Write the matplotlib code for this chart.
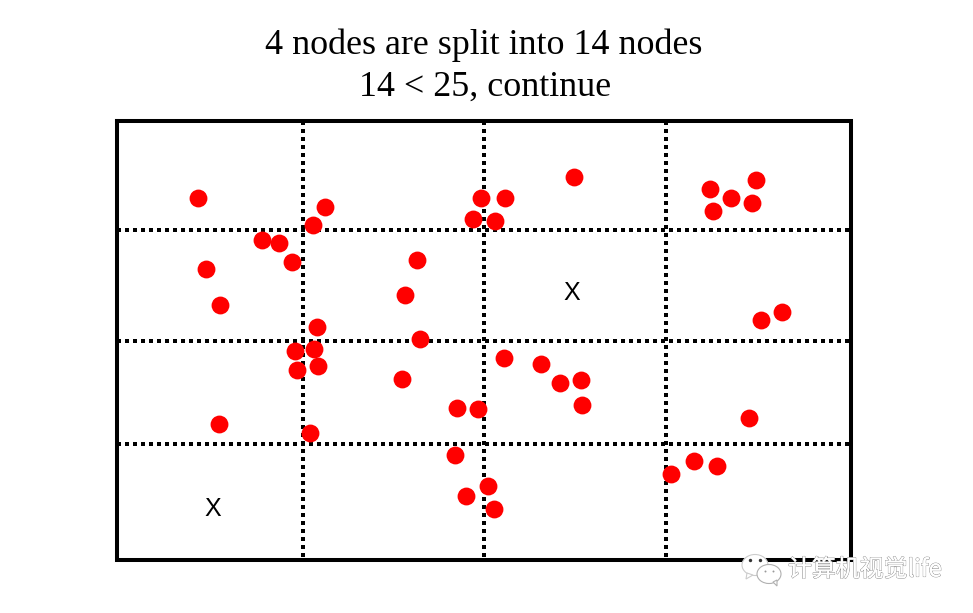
import matplotlib
matplotlib.use("Agg")
import matplotlib.pyplot as plt
import matplotlib.patheffects as pe
from matplotlib.patches import Ellipse, Polygon

# points (pixel positions of the reference)
pts_x = [198, 325, 313, 262, 279, 292, 206, 220, 317, 295, 314, 297, 318, 219, 310,
         417, 405, 420, 402, 481, 505, 473, 495, 574, 457, 478, 504, 541, 560, 581,
         582, 455, 488, 466, 494, 710, 731, 756, 752, 713, 761, 782, 749, 671, 694, 717]
pts_y = [198, 207, 225, 240, 243, 262, 269, 305, 327, 351, 349, 370, 366, 424, 433,
         260, 295, 339, 379, 198, 198, 219, 221, 177, 408, 409, 358, 364, 383, 380,
         405, 455, 486, 496, 509, 189, 198, 180, 203, 211, 320, 312, 418, 474, 461, 466]

grid_x = [303, 484, 665.5]
grid_y = [230, 341, 443.5]
x_marks = [(572, 293), (213, 509)]
title_lines = ["4 nodes are split into 14 nodes", "14 < 25, continue"]
watermark = "计算机视觉life"

W, H = 973, 613
fig = plt.figure(figsize=(W / 100, H / 100), dpi=100, facecolor="white")
ax = fig.add_axes([0, 0, 1, 1])
ax.set_xlim(0, W)
ax.set_ylim(H, 0)
ax.axis("off")

# frame
ax.plot([117, 851, 851, 117, 117], [121, 121, 560, 560, 121], color="black", lw=2.9,
        solid_joinstyle="miter", zorder=2)

# dotted split lines, 4 px squares every 8 px
for gx in grid_x:
    ax.plot([gx, gx], [121, 560], color="black", lw=2.88, ls=(0, (1, 1)), zorder=1)
for gy in grid_y:
    ax.plot([117, 851], [gy, gy], color="black", lw=2.88, ls=(0, (1, 1)), zorder=1)

ax.scatter(pts_x, pts_y, s=165, color="#ff0000", linewidths=0, zorder=3)

for mx, my in x_marks:
    ax.text(mx, my, "X", fontsize=18, family="Liberation Sans", ha="center", va="center", zorder=4)

ax.text(484, 45, title_lines[0], fontsize=25.9, family="Liberation Serif", ha="center", va="center")
ax.text(485, 87, title_lines[1], fontsize=25.9, family="Liberation Serif", ha="center", va="center")

# watermark
ax.add_patch(Ellipse((755, 565), 26, 21, fc="white", ec="#cccccc", lw=0.8, zorder=5))
ax.add_patch(Polygon([[747, 573], [746, 579], [753, 575]], fc="white", ec="#cccccc", lw=0.8, zorder=5))
ax.add_patch(Ellipse((769, 574), 24, 19, fc="white", ec="#b0b0b0", lw=0.8, zorder=6))
ax.add_patch(Polygon([[773, 582], [777, 586], [777, 580]], fc="white", ec="#b0b0b0", lw=0.8, zorder=6))
ax.scatter([750, 760], [560, 560], s=6, color="#333333", linewidths=0, zorder=7)
ax.scatter([765, 773], [571, 571], s=2, color="#999999", linewidths=0, zorder=7)
ax.text(788, 570, watermark, fontsize=17.2, color="white", ha="left", va="center", zorder=7,
        family=["Noto Sans CJK SC", "DejaVu Sans"],
        path_effects=[pe.withStroke(linewidth=0.8, foreground="#8c8c8c"), pe.Normal()])

fig.savefig("out.png", dpi=100, facecolor="white")
